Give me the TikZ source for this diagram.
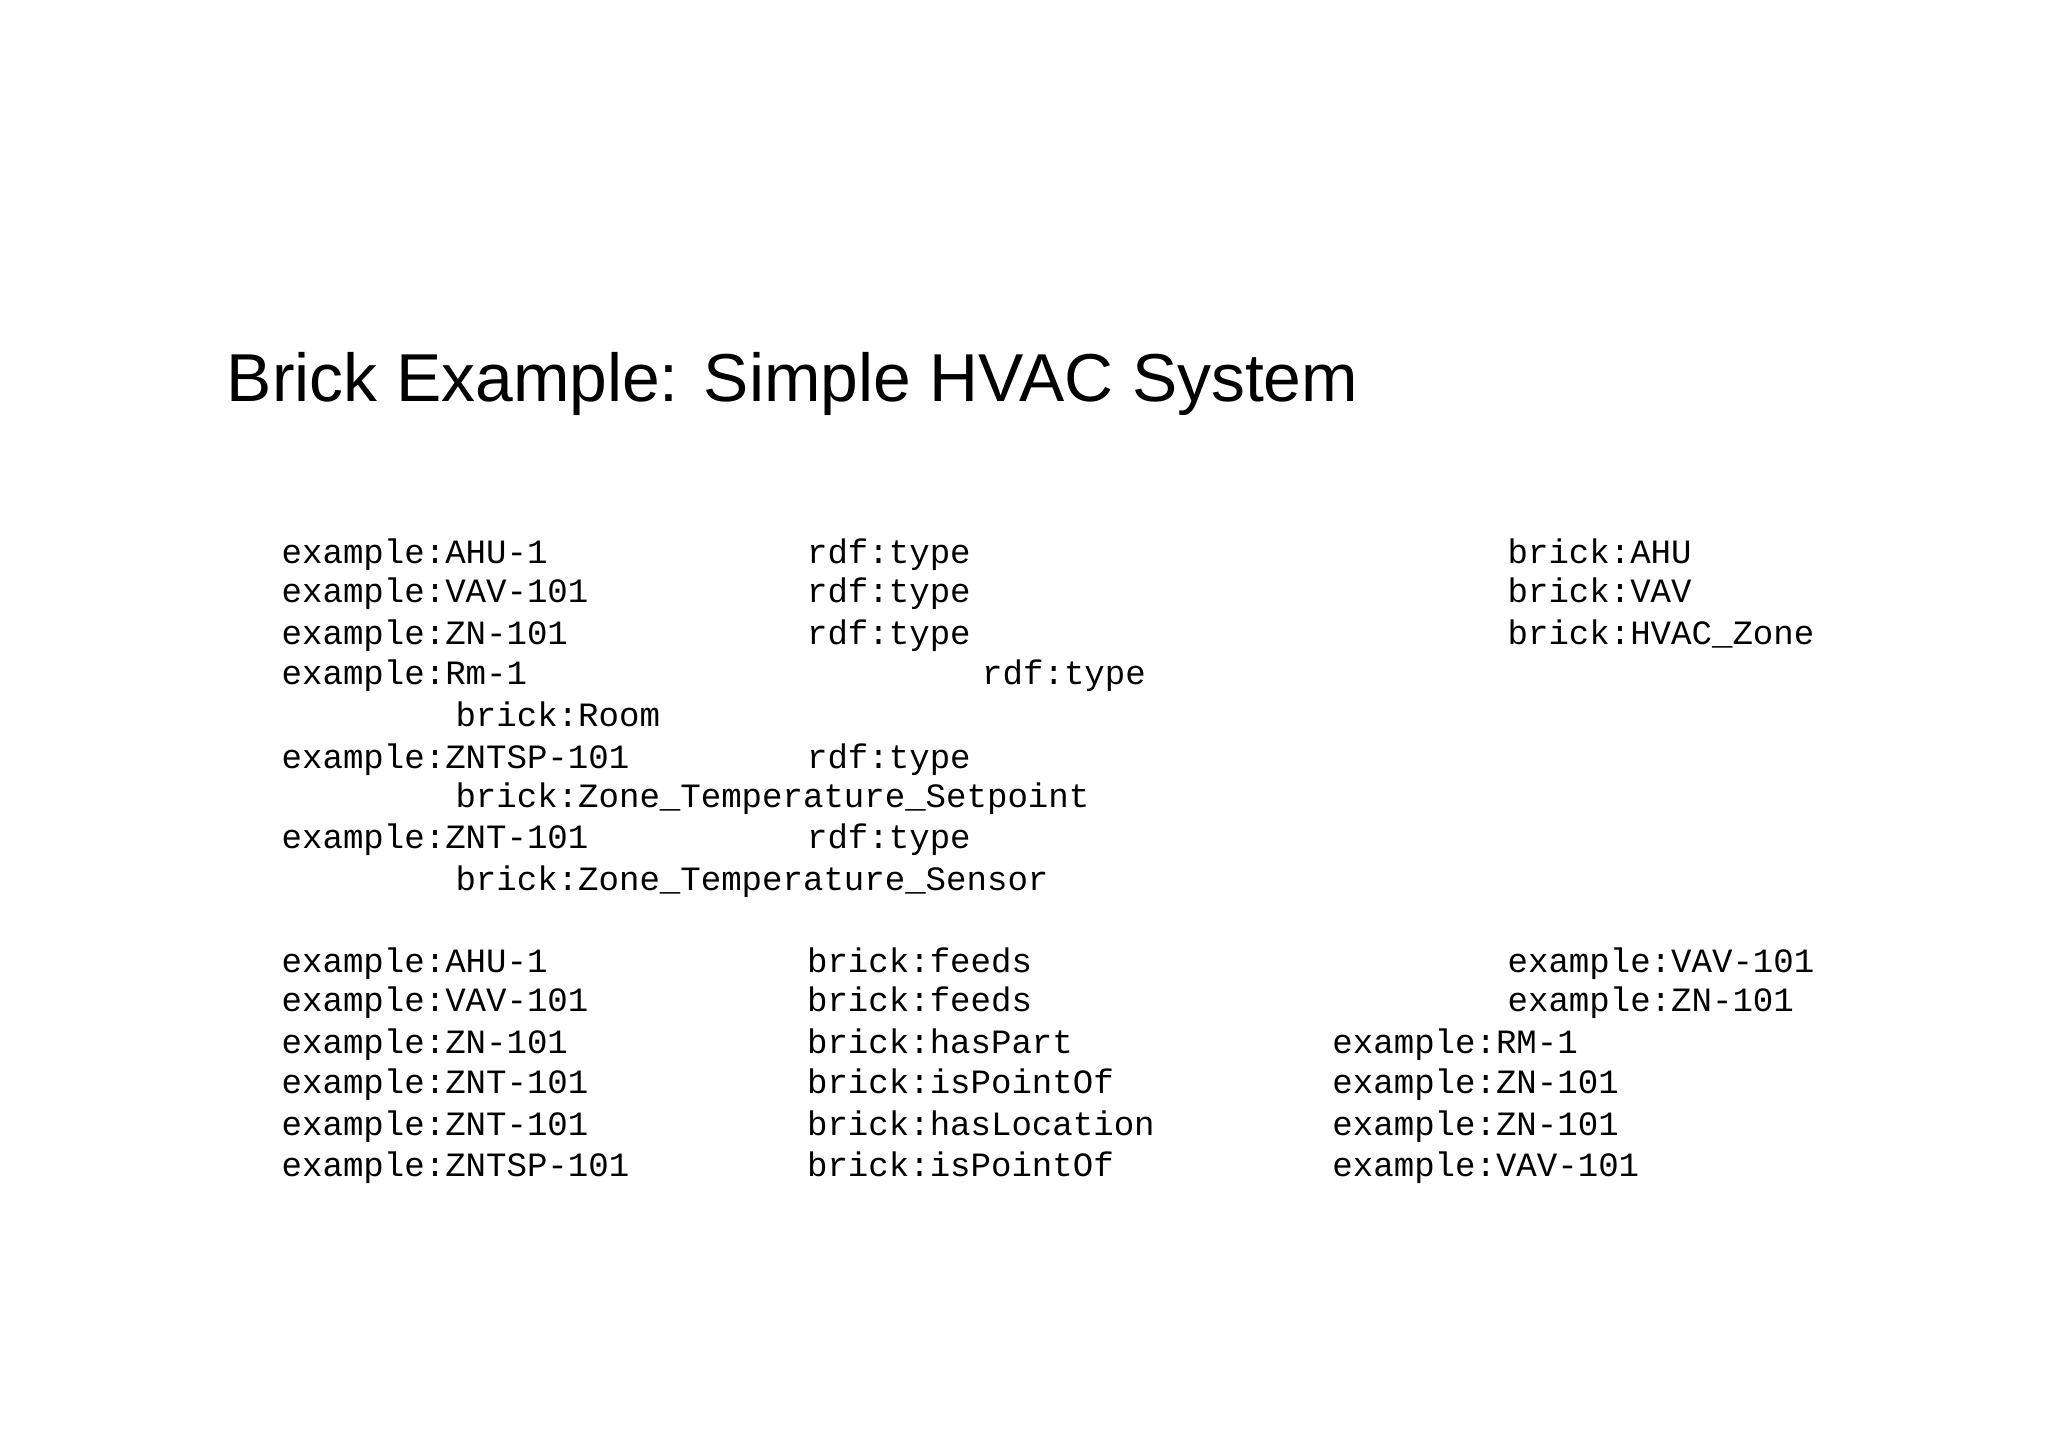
\documentclass[tikz,border=0pt]{standalone}
\usepackage{fontspec}
\setmainfont{Liberation Sans}
\setmonofont{Liberation Mono}
\begin{document}
\begin{tikzpicture}[x=0.01307cm,y=-0.01307cm,
  triple/.style={anchor=base west,inner sep=0pt,font=\ttfamily\fontsize{9.7}{11}\selectfont}]
  \useasboundingbox (0,0) rectangle (1567,1107);
  \node [anchor=base west,inner sep=0pt,font=\fontsize{19.3}{23}\selectfont] (title) at (173,307) {Brick Example: Simple HVAC System};
  % type triples
  \node [triple] (ahu) at (215,431) {example:AHU-1};
  \node [triple] (ahut) at (617,431) {rdf:type};
  \node [triple] (ahuc) at (1153,431) {brick:AHU};
  \node [triple] (vav) at (215,461) {example:VAV-101};
  \node [triple] (vavt) at (617,461) {rdf:type};
  \node [triple] (vavc) at (1153,461) {brick:VAV};
  \node [triple] (zn) at (215,493) {example:ZN-101};
  \node [triple] (znt) at (617,493) {rdf:type};
  \node [triple] (znc) at (1153,493) {brick:HVAC\_Zone};
  \node [triple] (rm) at (215,524) {example:Rm-1};
  \node [triple] (rmt) at (751,524) {rdf:type};
  \node [triple] (rmc) at (348,556) {brick:Room};
  \node [triple] (sp) at (215,588) {example:ZNTSP-101};
  \node [triple] (spt) at (617,588) {rdf:type};
  \node [triple] (spc) at (348,618) {brick:Zone\_Temperature\_Setpoint};
  \node [triple] (sens) at (215,649) {example:ZNT-101};
  \node [triple] (senst) at (617,649) {rdf:type};
  \node [triple] (sensc) at (348,681) {brick:Zone\_Temperature\_Sensor};
  % relation triples
  \node [triple] (feedsa) at (215,744) {example:AHU-1};
  \node [triple] (feedsap) at (617,744) {brick:feeds};
  \node [triple] (feedsao) at (1153,744) {example:VAV-101};
  \node [triple] (feedsb) at (215,774) {example:VAV-101};
  \node [triple] (feedsbp) at (617,774) {brick:feeds};
  \node [triple] (feedsbo) at (1153,774) {example:ZN-101};
  \node [triple] (part) at (215,806) {example:ZN-101};
  \node [triple] (partp) at (617,806) {brick:hasPart};
  \node [triple] (parto) at (1019,806) {example:RM-1};
  \node [triple] (pointa) at (215,837) {example:ZNT-101};
  \node [triple] (pointap) at (617,837) {brick:isPointOf};
  \node [triple] (pointao) at (1019,837) {example:ZN-101};
  \node [triple] (loc) at (215,869) {example:ZNT-101};
  \node [triple] (locp) at (617,869) {brick:hasLocation};
  \node [triple] (loco) at (1019,869) {example:ZN-101};
  \node [triple] (pointb) at (215,900) {example:ZNTSP-101};
  \node [triple] (pointbp) at (617,900) {brick:isPointOf};
  \node [triple] (pointbo) at (1019,900) {example:VAV-101};
\end{tikzpicture}
\end{document}
